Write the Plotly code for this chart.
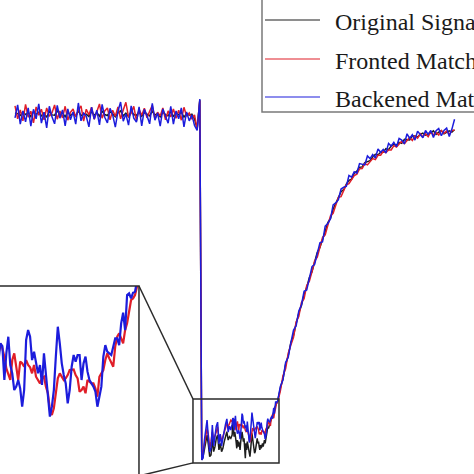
import plotly.graph_objects as go

# ---- sampling grid (sample index units) ----
t_plateau = [6 * i for i in range(71)]          # 0 .. 420
t_fall = [424.5 + 3 * i for i in range(24)]     # 424.5 .. 493.5
t_zoom = [495 + 1.5 * i for i in range(69)]     # 495 .. 597
t_rise = [603 + 6 * i for i in range(67)]       # 603 .. 999

# ---- Original signal (black) ----
orig_plateau = [100.3, 100.1, 99.5, 100.6, 99.8, 100.4, 99.2, 100.7, 99.9, 100.5,
                99.4, 100.2, 99.0, 100.8, 99.7, 99.6, 100.9, 99.8, 100.3, 99.1,
                100.6, 99.5, 100.2, 99.3, 101.0, 99.4, 100.1, 99.9, 99.2, 100.7,
                99.6, 100.4, 99.3, 100.8, 99.8, 99.5, 100.6, 100.0, 99.1, 100.3,
                100.9, 99.4, 100.2, 99.2, 100.7, 99.8, 99.5, 100.6, 99.3, 100.4,
                99.9, 99.4, 100.8, 99.6, 100.2, 99.1, 100.5, 99.8, 99.4, 100.6,
                99.3, 100.2, 99.7, 100.5, 99.0, 100.1, 99.6, 99.9, 98.5, 95.4, 104.2]
orig_fall = [-4.5, -3.5, -1.0, 1.5, 3.0, 0.0, -3.5, -3.0, 2.0, -2.0, -0.5, 2.0,
             3.0, -1.5, 0.5, -2.0, -1.0, 1.0, 2.5, 4.0, 1.5, 2.5, 2.0, 3.0]
orig_zoom = [6.5, 5.0, 2.5, 4.0, 3.0, 1.0, -1.0, 1.5, -0.5, 1.0,
             0.0, -1.5, 1.0, 3.5, 4.0, 2.5, 1.0, 2.0, -3.0, -4.0,
             0.5, -1.5, 1.0, -0.5, -2.0, -3.0, -3.5, -1.5, 1.0, 3.5,
             2.0, 0.5, -1.0, -2.5, -2.0, 0.0, 1.0, 2.0, 0.5, 1.0,
             -0.5, -1.5, 0.0, -1.0, -0.5, 0.5, -0.5, 0.5, 1.5, 0.5,
             2.0, 3.5, 4.5, 5.5, 5.0, 6.0, 6.5, 7.0, 7.5, 8.0,
             8.5, 9.5, 10.0, 10.5, 11.5, 12.0, 12.5, 13.0, 13.3]
orig_rise = [17.1, 19.9, 24.3, 27.0, 31.0, 33.1, 36.7, 39.9, 42.1, 45.5,
             47.6, 50.6, 52.3, 55.2, 58.2, 59.7, 62.5, 64.5, 67.2, 68.4,
             71.2, 72.9, 74.3, 76.5, 77.1, 78.8, 79.9, 80.3, 82.1, 82.7,
             83.9, 84.0, 85.3, 85.6, 85.9, 87.0, 87.8, 87.6, 88.4, 88.4,
             89.5, 89.2, 90.3, 90.9, 90.5, 91.4, 91.1, 92.3, 92.2, 92.1,
             93.3, 93.3, 93.0, 93.8, 94.2, 93.6, 94.0, 94.3, 94.9, 93.8,
             94.5, 94.9, 94.0, 94.5, 94.9, 94.5, 95.2]

# ---- Fronted match (red) ----
front_plateau = [102.4, 98.5, 101.2, 97.9, 102.9, 99.0, 100.8, 97.3, 102.1, 99.6,
                 101.4, 98.2, 101.8, 99.3, 100.3, 102.7, 98.4, 100.9, 98.8, 102.3,
                 98.1, 100.5, 101.5, 99.1, 101.1, 102.4, 97.8, 101.4, 99.7, 102.0,
                 98.4, 100.6, 103.0, 98.7, 100.9, 101.8, 98.2, 101.1, 99.3, 102.1,
                 98.5, 101.2, 103.5, 99.0, 100.2, 102.3, 97.9, 101.4, 99.6, 101.7,
                 98.8, 100.8, 102.6, 98.4, 100.5, 99.4, 101.8, 98.2, 100.9, 99.1,
                 101.5, 98.7, 101.1, 98.1, 102.0, 99.3, 100.3, 98.4, 99.7, 95.5, 104.0]
front_fall = [-4.5, -2.0, 0.5, 3.5, 5.0, 3.0, -1.0, 1.0, 4.0, 1.5, 2.5, 4.0,
              5.5, 2.0, 3.0, 1.0, 2.5, 4.0, 5.0, 6.5, 5.5, 6.5, 7.5, 7.0]
front_zoom = [8.12, 7.62, 6.78, 5.60, 4.93, 4.43, 6.44, 7.11, 5.77, 4.43,
              6.28, 6.11, 5.77, 6.44, 5.94, 5.70, 5.10, 5.94, 4.76, 4.43,
              4.09, 4.60, 4.76, 3.76, 3.09, 1.41, 0.90, 1.58, 3.42, 4.60,
              5.10, 4.76, 4.43, 4.60, 4.93, 5.44, 5.44, 5.50, 4.93, 4.60,
              3.25, 3.42, 3.76, 3.09, 4.43, 4.26, 4.09, 4.09, 3.59, 2.75,
              4.76, 5.10, 5.44, 6.44, 7.11, 6.61, 6.11, 5.77, 7.79, 8.79,
              9.13, 8.63, 8.12, 9.46, 10.14, 11.31, 12.49, 12.65, 12.99]
front_rise = [16.3, 20.9, 23.0, 27.7, 30.2, 32.5, 37.2, 38.8, 43.0, 44.2,
              48.2, 49.5, 52.4, 55.6, 56.7, 59.8, 62.7, 63.5, 66.4, 69.2,
              70.0, 72.2, 74.8, 75.0, 76.8, 78.6, 78.9, 80.1, 81.4, 81.8,
              83.4, 83.5, 85.0, 84.6, 85.6, 86.5, 86.2, 87.5, 87.5, 88.7,
              88.3, 89.1, 89.1, 90.4, 90.0, 90.8, 91.8, 91.0, 91.9, 92.9,
              92.0, 93.3, 92.7, 94.0, 93.1, 94.0, 93.1, 94.6, 93.7, 94.4,
              93.6, 95.0, 94.1, 94.8, 93.8, 95.0, 95.1]

# ---- Backened match (blue) ----
back_plateau = [98.8, 102.7, 96.9, 100.9, 97.6, 101.8, 96.3, 101.4, 98.5, 103.0,
                97.2, 100.5, 95.8, 102.3, 99.1, 97.0, 102.6, 98.7, 101.2, 96.4,
                101.5, 98.2, 100.6, 96.9, 103.3, 97.9, 100.2, 99.3, 96.1, 102.0,
                98.4, 101.1, 96.7, 102.9, 99.0, 97.3, 101.7, 99.7, 96.0, 100.8,
                103.6, 97.8, 100.0, 96.6, 102.4, 98.7, 97.5, 102.1, 96.4, 101.4,
                99.4, 97.0, 103.2, 98.1, 100.3, 96.3, 101.5, 99.0, 97.2, 102.3,
                96.9, 100.9, 98.5, 101.8, 96.1, 100.6, 97.9, 99.7, 96.5, 95.0, 104.5]
back_fall = [-4.5, -3.9, 1.5, 4.5, 7.5, 2.1, -2.1, -0.9, 6.0, -0.3, 2.7, 5.7,
             6.9, 0.3, 3.3, -0.3, 2.1, 4.5, 6.3, 7.9, 3.9, 5.7, 4.5, 6.3]
back_zoom = [8.12, 7.85, 4.43, 7.11, 8.79, 5.94, 5.10, 3.42, 3.76, 4.43,
             3.59, 1.74, 3.42, 8.46, 9.46, 8.79, 6.44, 7.28, 6.11, 5.10,
             5.94, 3.93, 7.11, 5.10, 3.42, 0.74, 1.74, 3.42, 6.78, 9.80,
             8.12, 6.11, 4.93, 4.09, 2.08, 3.42, 5.77, 6.95, 6.28, 6.95,
             6.95, 4.43, 6.11, 6.78, 5.27, 4.43, 4.09, 3.76, 3.25, 1.74,
             2.75, 3.76, 6.78, 7.95, 7.28, 7.11, 6.95, 7.79, 8.63, 8.63,
             7.95, 10.14, 11.21, 9.46, 12.99, 13.16, 12.65, 13.22, 13.32]
back_rise = [17.7, 19.7, 24.9, 26.5, 30.9, 34.7, 36.0, 40.5, 42.3, 46.4,
             46.8, 50.8, 53.9, 54.6, 57.9, 61.1, 61.4, 66.1, 66.9, 68.3,
             72.5, 73.1, 74.1, 77.3, 77.9, 78.1, 81.4, 80.9, 82.5, 82.1,
             85.0, 84.8, 84.6, 87.3, 86.5, 87.7, 86.7, 89.4, 88.4, 89.3,
             88.2, 91.1, 90.3, 91.4, 90.1, 92.6, 92.1, 91.0, 94.0, 92.6,
             93.7, 92.1, 94.8, 93.8, 92.8, 95.0, 93.8, 95.0, 92.9, 94.9,
             95.6, 93.4, 95.0, 95.7, 93.2, 95.4, 98.4]

series_names = ["Original Signal", "Fronted Match", "Backened Match"]
series_colors = ["#1e1e1e", "#e01e28", "#1c1cdc"]

t = t_plateau + t_fall + t_zoom + t_rise
original = orig_plateau + orig_fall + orig_zoom + orig_rise
fronted = front_plateau + front_fall + front_zoom + front_rise
backened = back_plateau + back_fall + back_zoom + back_rise
for s in (original, fronted, backened):
    assert len(s) == len(t), (len(s), len(t))

# axis windows
main_x = [-34.1, 1043.2]
main_y = [-8.76, 134.4]
zoom_box_x = [404.5, 600.0]
zoom_box_y = [-5.4, 13.9]
inset_x = [494.7, 600.0]
inset_y = [-5.04, 13.9]
inset_dom_x = [0.0, 0.2932]
inset_dom_y = [0.0, 0.3966]

fig = go.Figure()
for name, vals, col in zip(series_names, [original, fronted, backened], series_colors):
    fig.add_trace(go.Scatter(x=t, y=vals, mode="lines", name=name, showlegend=False,
                             line=dict(color=col, width=1.5)))
for name, vals, col in zip(series_names[1:], [fronted, backened], series_colors[1:]):
    fig.add_trace(go.Scatter(x=t, y=vals, mode="lines", name=name, showlegend=False,
                             xaxis="x2", yaxis="y2", line=dict(color=col, width=2.2)))

# inset corners expressed in main-axis data coordinates
cx = main_x[0] + inset_dom_x[1] * (main_x[1] - main_x[0])
cy_top = main_y[0] + inset_dom_y[1] * (main_y[1] - main_y[0])
cy_bot = main_y[0] - 0.004 * (main_y[1] - main_y[0])

box_line = dict(color="#2a2a2a", width=1.5)
shapes = [
    dict(type="rect", xref="x", yref="y", x0=zoom_box_x[0], x1=zoom_box_x[1],
         y0=zoom_box_y[0], y1=zoom_box_y[1], line=box_line),
    dict(type="rect", xref="paper", yref="paper", x0=-0.2, x1=inset_dom_x[1],
         y0=-0.004, y1=inset_dom_y[1], line=box_line),
    dict(type="line", xref="x", yref="y", x0=cx, y0=cy_top, x1=zoom_box_x[0], y1=zoom_box_y[1],
         line=box_line),
    dict(type="line", xref="x", yref="y", x0=cx, y0=cy_bot, x1=zoom_box_x[0], y1=zoom_box_y[0],
         line=box_line),
]

# legend box (drawn as shapes + text so its rows sit where the reference has them)
H = 474.0
leg_left, leg_bottom = 262 / H, 1 - 112 / H
leg_rows = [1 - 20 / H, 1 - 59 / H, 1 - 97 / H]
leg_line_x = [265 / H, 320 / H]
leg_text_x = 333 / H
shapes.append(dict(type="rect", xref="paper", yref="paper", x0=leg_left, x1=1.1,
                   y0=leg_bottom, y1=1.1, line=dict(color="#7a7a7a", width=1.5),
                   fillcolor="white", layer="above"))
annotations = []
for name, col, yy in zip(series_names, series_colors, leg_rows):
    shapes.append(dict(type="line", xref="paper", yref="paper", x0=leg_line_x[0],
                       x1=leg_line_x[1], y0=yy, y1=yy, line=dict(color=col, width=1.1)))
    annotations.append(dict(text=name, xref="paper", yref="paper", x=leg_text_x,
                            y=yy - 2 / H, xanchor="left", yanchor="middle", showarrow=False,
                            font=dict(family="Liberation Serif", size=24, color="#1a1a1a")))

fig.update_layout(
    width=474, height=474,
    margin=dict(l=0, r=0, t=0, b=0, autoexpand=False),
    paper_bgcolor="white", plot_bgcolor="white",
    xaxis=dict(range=main_x, visible=False, domain=[0, 1]),
    yaxis=dict(range=main_y, visible=False, domain=[0, 1]),
    xaxis2=dict(range=inset_x, visible=False, domain=inset_dom_x, anchor="y2"),
    yaxis2=dict(range=inset_y, visible=False, domain=inset_dom_y, anchor="x2"),
    showlegend=False,
    shapes=shapes,
    annotations=annotations,
)

fig.write_html("out.html",
               config={"displayModeBar": False},
               post_script="document.body.style.margin='0px';document.body.style.padding='0px';")
